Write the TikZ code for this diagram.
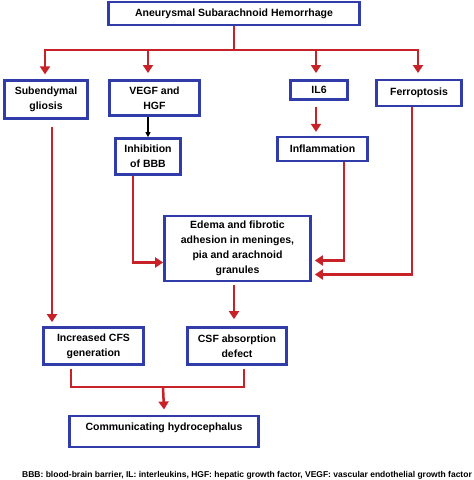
\documentclass[tikz,border=0pt]{standalone}
\usepackage{fontspec}
\setmainfont{Liberation Sans}
\usetikzlibrary{arrows.meta,calc}
\definecolor{bblue}{RGB}{48,60,170}
\definecolor{rred}{RGB}{198,34,40}
\tikzset{
  box/.style={draw=bblue,line width=2.7pt,fill=white,align=center,inner sep=1pt,
    font=\fontsize{10.5}{14.8}\selectfont\bfseries},
  rline/.style={draw=rred,line width=2.5pt},
  rarr/.style={rline,-{Triangle[length=8pt,width=10pt]}},
  barr/.style={draw=black,line width=1.2pt,-{Triangle[length=5pt,width=5pt]}},
}
\begin{document}
\begin{tikzpicture}[x=1pt,y=1pt]
\useasboundingbox (0,0) rectangle (474,-480);
\fill[white] (0,0) rectangle (474,-480);
% boxes
\node[box,minimum width=251pt,minimum height=23pt] (top) at (234,-13.5) {Aneurysmal Subarachnoid Hemorrhage};
\node[box,minimum width=83pt,minimum height=38pt] (sub) at (46,-99.5) {Subendymal\\gliosis};
\node[box,minimum width=90pt,minimum height=35pt] (vegf) at (154.5,-98) {VEGF and\\HGF};
\node[box,minimum width=57pt,minimum height=19pt] (il) at (319,-90) {IL6};
\node[box,minimum width=85pt,minimum height=26pt] (ferr) at (419,-93) {Ferroptosis};
\node[box,minimum width=65pt,minimum height=36pt] (inh) at (148,-156.5) {Inhibition\\of BBB};
\node[box,minimum width=90pt,minimum height=24pt] (infl) at (322.5,-149) {Inflammation};
\node[box,minimum width=146pt,minimum height=65pt] (edema) at (237.5,-248.5) {Edema and fibrotic\\adhesion in meninges,\\pia and arachnoid\\granules};
\node[box,minimum width=100pt,minimum height=37pt] (incr) at (93.5,-346) {Increased CFS\\generation};
\node[box,minimum width=99pt,minimum height=37pt] (csf) at (237,-346) {CSF absorption\\defect};
\node[box,minimum width=189pt,text height=14pt,text depth=15pt,anchor=north] (comm) at (164,-414.5) {Communicating hydrocephalus};
% top bus
\coordinate (bus) at ($(top.south)+(0,-25)$);
\draw[rline] (top.south) -- (bus);
\draw[rline,line cap=rect] (45,-50) -- (418,-50);
\draw[rarr] (sub.north |- bus) ++(-1,0) -- ++(0,-23);
\draw[rarr] (148,-50) -- ++(0,-23);
\draw[rarr] (316,-50) -- ++(0,-23);
\draw[rarr] (418,-50) -- ++(0,-23);
% black arrow
\draw[barr] (vegf.south -| inh.north) -- (inh.north);
% IL6 -> Inflammation
\draw[rarr] ($(il.south)+(-3,-6)$) -- ++(0,-25);
% to edema
\draw[rarr] (inh.south -| 133,0) |- ($(edema.west)+(0,-14)$);
\draw[rarr,shorten >=3pt] (infl.south -| 344,0) |- ($(edema.east)+(0,-12)$);
\draw[rarr,shorten >=3pt] (ferr.south -| 412,0) |- ($(edema.east)+(0,-26)$);
% subendymal -> increased
\draw[rarr] ($(sub.south -| 52,0)+(0,-7)$) -- ($(incr.north -| 52,0)+(0,4)$);
% edema -> csf
\draw[rarr] ($(edema.south -| 234,0)+(0,-3)$) -- ($(csf.north -| 234,0)+(0,7)$);
% to communicating
\coordinate (join) at (163,-387);
\draw[rline,line join=miter] ($(incr.south -| 71,0)+(0,-3)$) |- ($(csf.south -| 244,0)+(0,-21)$) -- ($(csf.south -| 244,0)+(0,-3)$);
\draw[rarr] (join) -- ($(comm.north)+(0,5)$);
% footnote
\node[anchor=west,inner sep=0pt,font=\fontsize{8.5}{10}\selectfont\bfseries] (note) at (22,-475) {BBB: blood-brain barrier, IL: interleukins, HGF: hepatic growth factor, VEGF: vascular endothelial growth factor};
\end{tikzpicture}
\end{document}
